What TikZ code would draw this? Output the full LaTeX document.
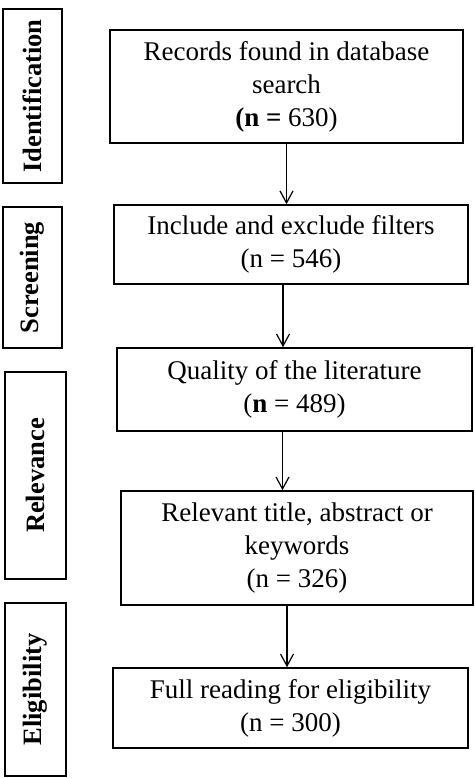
\documentclass[tikz,border=0pt]{standalone}
\usepackage{fontspec}
\setmainfont{Liberation Serif}
\usetikzlibrary{arrows.meta}
\usetikzlibrary{positioning}

\tikzset{
  stage/.style={draw=black, line width=1.6pt, fill=white, inner sep=0pt, align=center,
                font=\fontsize{27}{33}\selectfont},
  phase/.style={draw=black, line width=1.6pt, fill=white, inner sep=0pt,
                font=\fontsize{26.5}{30}\selectfont\bfseries},
  flow/.style={line width=1.2pt, -{Straight Barb[length=12pt,width=13pt,line width=1.2pt]}}
}

\begin{document}
\begin{tikzpicture}[x=1pt, y=-1pt]
            \useasboundingbox[fill=white] (0,0) rectangle (474,778);
            % side labels
            \node[phase, minimum width=59, minimum height=174] (ident)  at (32.5, 96.0)  {\rotatebox{90}{Identification}};
            \node[phase, minimum width=59, minimum height=141] (screen) at (32.5,277.5)  {\rotatebox{90}{Screening}};
            \node[phase, minimum width=61, minimum height=207] (relev)  at (35.5,475.5)  {\rotatebox{90}{Relevance}};
            \node[phase, minimum width=61, minimum height=173] (elig)   at (35.5,689.5)  {\rotatebox{90}{Eligibility}};
            % flow boxes
            \node[stage, minimum width=353, minimum height=113] (records) at (286.5, 86.5) {Records found in database\\search\\\textbf{(n =} 630)};
            \node[stage, minimum width=354, minimum height=79]  (filters) at (291.0,244.5) {Include and exclude filters\\(n = 546)};
            \node[stage, minimum width=355, minimum height=83]  (quality) at (294.5,389.5) {Quality of the literature\\(\textbf{n} = 489)};
            \node[stage, minimum width=352, minimum height=114] (title)   at (297.0,548.0) {Relevant title, abstract or\\keywords\\(n = 326)};
            \node[stage, minimum width=355, minimum height=80]  (reading) at (290.5,708.0) {Full reading for eligibility\\(n = 300)};
            % arrows
            \draw[flow] (records.south) -- (records.south |- filters.north);
            \draw[flow] ([xshift=-8]filters.south) -- ([xshift=-8]filters.south |- quality.north);
            \draw[flow] ([xshift=-12]quality.south) -- ([xshift=-12]quality.south |- title.north);
            \draw[flow] ([xshift=-10]title.south) -- ([xshift=-10]title.south |- reading.north);
\end{tikzpicture}
\end{document}
